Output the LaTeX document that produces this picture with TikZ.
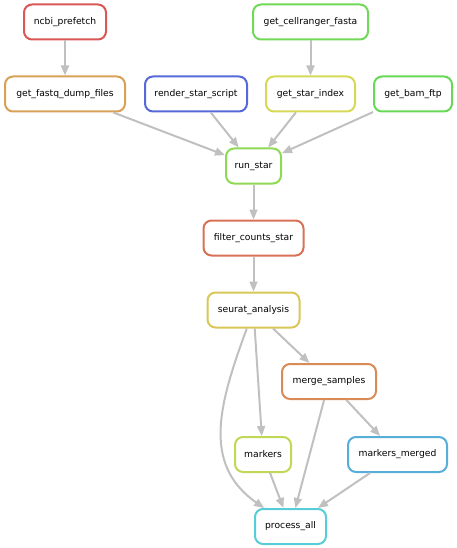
\documentclass[tikz,border=0pt]{standalone}
\usepackage{fontspec}
\setmainfont{DejaVu Sans}
\usetikzlibrary{arrows.meta}
\definecolor{cNcbi}{RGB}{217,87,87}
\definecolor{cFastq}{RGB}{217,160,87}
\definecolor{cRender}{RGB}{87,105,217}
\definecolor{cCell}{RGB}{113,217,87}
\definecolor{cIndex}{RGB}{214,217,87}
\definecolor{cBam}{RGB}{104,217,87}
\definecolor{cRun}{RGB}{143,217,87}
\definecolor{cFilter}{RGB}{217,113,87}
\definecolor{cSeurat}{RGB}{217,199,87}
\definecolor{cMerge}{RGB}{217,139,87}
\definecolor{cMarkers}{RGB}{191,217,87}
\definecolor{cMM}{RGB}{87,175,217}
\definecolor{cProc}{RGB}{87,205,217}
\definecolor{edgegray}{RGB}{192,192,192}
\tikzset{
  rule/.style={draw=#1, line width=2pt, rounded corners=8pt, fill=white,
    minimum height=35pt, inner sep=0pt, font=\fontsize{9.2}{10}\selectfont},
  conn/.style={draw=edgegray, line width=2pt,
    -{Triangle[length=10pt,width=8pt]}},
}
\begin{document}
\begin{tikzpicture}[x=1pt,y=-1pt]
\useasboundingbox (0,0) rectangle (456,548);
\node[rule=cNcbi, minimum width=82pt] (ncbi) at (65,22) {ncbi\_prefetch};
\node[rule=cCell, minimum width=115pt] (cell) at (310.5,22) {get\_cellranger\_fasta};
\node[rule=cFastq, minimum width=120pt] (fastq) at (65,94) {get\_fastq\_dump\_files};
\node[rule=cRender, minimum width=102pt] (render) at (196,94) {render\_star\_script};
\node[rule=cIndex, minimum width=89pt] (index) at (310.5,94) {get\_star\_index};
\node[rule=cBam, minimum width=78pt] (bam) at (413,94) {get\_bam\_ftp};
\node[rule=cRun, minimum width=55pt] (run) at (253.5,166) {run\_star};
\node[rule=cFilter, minimum width=100pt] (filter) at (253.5,238) {filter\_counts\_star};
\node[rule=cSeurat, minimum width=92pt] (seurat) at (253.5,310) {seurat\_analysis};
\node[rule=cMerge, minimum width=94pt] (merge) at (329,381.5) {merge\_samples};
\node[rule=cMarkers, minimum width=56pt] (markers) at (263,454.5) {markers};
\node[rule=cMM, minimum width=99pt] (mm) at (397.5,454.5) {markers\_merged};
\node[rule=cProc, minimum width=71pt] (proc) at (290.5,526.5) {process\_all};

\draw[conn] (ncbi) -- (fastq);
\draw[conn] (cell) -- (index);
\draw[conn] (fastq) -- (run);
\draw[conn] (render) -- (run);
\draw[conn] (index) -- (run);
\draw[conn] (bam) -- (run);
\draw[conn] (run) -- (filter);
\draw[conn] (filter) -- (seurat);
\draw[conn] (seurat) -- (merge);
\draw[conn] (seurat) -- (markers);
\draw[conn] (seurat) to[out=-110, in=145, looseness=1.1] (proc);
\draw[conn] (merge) -- (mm);
\draw[conn] (merge) -- (proc);
\draw[conn] (markers) -- (proc);
\draw[conn] (mm) -- (proc);
\end{tikzpicture}
\end{document}
